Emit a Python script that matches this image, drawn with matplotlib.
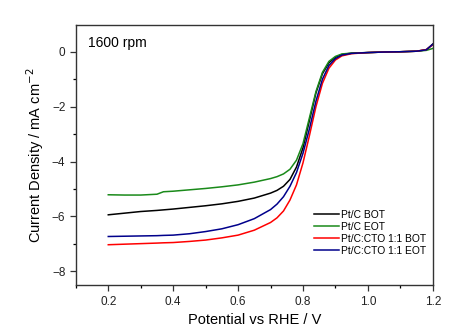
import matplotlib
matplotlib.use("Agg")
import matplotlib.pyplot as plt
from matplotlib.ticker import MultipleLocator

plt.rcParams['font.family'] = ['Liberation Sans', 'DejaVu Sans']

potential = [0.20, 0.25, 0.30, 0.35, 0.37, 0.40, 0.45, 0.50, 0.55, 0.60, 0.65, 0.70,
             0.72, 0.74, 0.76, 0.78, 0.80, 0.82, 0.84, 0.86, 0.88, 0.90, 0.92,
             0.95, 1.00, 1.05, 1.10, 1.15, 1.18, 1.20]

ptc_bot = [-5.94, -5.88, -5.82, -5.78, -5.76, -5.73, -5.67, -5.61, -5.54, -5.45, -5.33, -5.15,
           -5.05, -4.90, -4.65, -4.20, -3.50, -2.50, -1.50, -0.80, -0.40, -0.20, -0.10,
           -0.05, -0.03, -0.01, 0.00, 0.02, 0.07, 0.28]
ptc_eot = [-5.21, -5.22, -5.22, -5.19, -5.10, -5.08, -5.03, -4.98, -4.92, -4.85, -4.75, -4.62,
           -4.55, -4.45, -4.28, -3.95, -3.35, -2.40, -1.45, -0.75, -0.35, -0.17, -0.08,
           -0.05, -0.03, -0.01, 0.00, 0.02, 0.05, 0.12]
cto_bot = [-7.03, -7.01, -6.99, -6.97, -6.96, -6.95, -6.91, -6.86, -6.78, -6.68, -6.50, -6.22,
           -6.05, -5.80, -5.40, -4.85, -4.05, -3.05, -2.00, -1.15, -0.60, -0.30, -0.15,
           -0.07, -0.03, -0.01, 0.00, 0.02, 0.08, 0.25]
cto_eot = [-6.73, -6.72, -6.71, -6.70, -6.69, -6.68, -6.63, -6.55, -6.45, -6.30, -6.08, -5.75,
           -5.55, -5.28, -4.90, -4.40, -3.70, -2.80, -1.80, -1.00, -0.50, -0.25, -0.12,
           -0.06, -0.03, -0.01, 0.00, 0.02, 0.07, 0.27]

labels = ['Pt/C BOT', 'Pt/C EOT', 'Pt/C:CTO 1:1 BOT', 'Pt/C:CTO 1:1 EOT']
colors = ['#000000', '#1a8a1a', '#ff0000', '#00008b']

fig = plt.figure(figsize=(4.74, 3.35), dpi=100)
ax = fig.add_axes([0.160, 0.149, 0.753, 0.776])

for ys, lab, c in zip([ptc_bot, ptc_eot, cto_bot, cto_eot], labels, colors):
    ax.plot(potential, ys, color=c, lw=1.1, label=lab)

ax.set_xlim(0.1, 1.2)
ax.set_ylim(-8.5, 0.97)
ax.xaxis.set_major_locator(MultipleLocator(0.2))
ax.xaxis.set_minor_locator(MultipleLocator(0.1))
ax.yaxis.set_major_locator(MultipleLocator(2))
ax.yaxis.set_minor_locator(MultipleLocator(1))
ax.set_xticks([0.2, 0.4, 0.6, 0.8, 1.0, 1.2])
ax.set_xticklabels(['0.2', '0.4', '0.6', '0.8', '1.0', '1.2'])
ax.tick_params(which='major', direction='out', length=4, width=0.9, labelsize=8.5, colors='#333333')
ax.tick_params(which='minor', direction='out', length=2.5, width=0.9)
ax.tick_params(labelcolor='#222222')
for s in ax.spines.values():
    s.set_linewidth(1.0)
    s.set_color('#333333')

ax.set_xlabel('Potential vs RHE / V', fontsize=10.5, labelpad=4)
ax.set_ylabel('Current Density / mA cm$^{-2}$', fontsize=10.5, labelpad=4)
ax.text(0.035, 0.93, '1600 rpm', transform=ax.transAxes, fontsize=10, va='center', ha='left')

ax.legend(loc='upper left', bbox_to_anchor=(0.668, 0.29), frameon=False, fontsize=7.4,
          handlelength=2.4, handletextpad=0.2, labelspacing=0.2, borderaxespad=0,
          borderpad=0)

fig.savefig('out.png', dpi=100)
